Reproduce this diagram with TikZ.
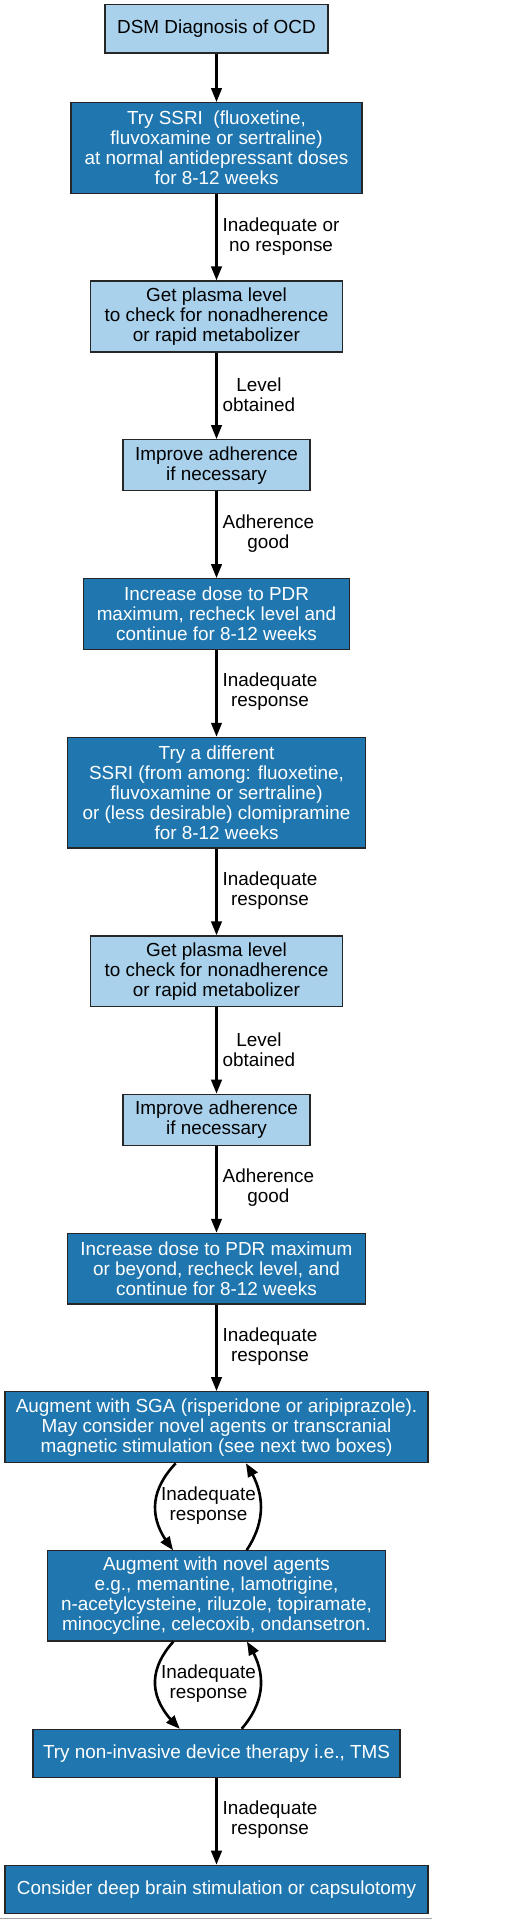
\documentclass[tikz,border=0pt]{standalone}
\usepackage{fontspec}
\setmainfont{Liberation Sans}
\usetikzlibrary{arrows.meta,bending}
\definecolor{lightb}{HTML}{A9D1EC}
\definecolor{darkb}{HTML}{2077B0}
\begin{document}
\begin{tikzpicture}[x=1bp,y=-1bp,
  box/.style={draw=black!85, line width=1.2bp, inner sep=0pt, align=center,
    font=\fontsize{18.9bp}{20bp}\selectfont},
  lbox/.style={box, fill=lightb, text=black},
  dbox/.style={box, fill=darkb, text=white},
  elabel/.style={inner sep=0pt, align=center, anchor=west,
    font=\fontsize{18.9bp}{20bp}\selectfont},
  clabel/.style={inner sep=0pt, align=center,
    font=\fontsize{18.9bp}{20bp}\selectfont},
  flow/.style={line width=2.6bp, -{Triangle[width=10.5bp,length=14bp,bend]}}
]
\useasboundingbox (0,0) rectangle (518,1919);

\node[lbox, minimum width=223bp, minimum height=48.3bp] (n1) at (216.5,28.9) {DSM Diagnosis of OCD};
\node[dbox, minimum width=291bp, minimum height=90.6bp] (n2) at (216.5,148) {Try SSRI \ (fluoxetine,\\fluvoxamine or sertraline)\\at normal antidepressant doses\\for 8-12 weeks};
\node[lbox, minimum width=252.4bp, minimum height=71bp] (n3) at (216.5,316.5) {Get plasma level\\to check for nonadherence\\or rapid metabolizer};
\node[lbox, minimum width=187bp, minimum height=51bp] (n4) at (216.5,465.2) {Improve adherence\\if necessary};
\node[dbox, minimum width=265.6bp, minimum height=70.6bp] (n5) at (216.5,614) {Increase dose to PDR\\maximum, recheck level and\\continue for 8-12 weeks};
\node[dbox, minimum width=298bp, minimum height=110.7bp] (n6) at (216.5,792.7) {Try a different\\SSRI (from among: fluoxetine,\\fluvoxamine or sertraline)\\or (less desirable) clomipramine\\for 8-12 weeks};
\node[lbox, minimum width=252.4bp, minimum height=70.7bp] (n7) at (216.5,971.3) {Get plasma level\\to check for nonadherence\\or rapid metabolizer};
\node[lbox, minimum width=187bp, minimum height=51bp] (n8) at (216.5,1119.8) {Improve adherence\\if necessary};
\node[dbox, minimum width=298bp, minimum height=70.7bp] (n9) at (216.5,1268.7) {Increase dose to PDR maximum\\or beyond, recheck level, and\\continue for 8-12 weeks};
\node[dbox, minimum width=423bp, minimum height=71bp] (n10) at (216.5,1427.2) {Augment with SGA (risperidone or aripiprazole).\\May consider novel agents or transcranial\\magnetic stimulation (see next two boxes)};
\node[dbox, minimum width=337.7bp, minimum height=90.3bp] (n11) at (216.5,1595.9) {Augment with novel agents\\e.g., memantine, lamotrigine,\\n-acetylcysteine, riluzole, topiramate,\\minocycline, celecoxib, ondansetron.};
\node[dbox, minimum width=367bp, minimum height=48bp] (n12) at (216.5,1753.3) {Try non-invasive device therapy i.e., TMS};
\node[dbox, minimum width=423bp, minimum height=48bp] (n13) at (216.5,1889.3) {Consider deep brain stimulation or capsulotomy};

\draw[flow] (n1) -- (n2);
\draw[flow] (n2) -- (n3);
\draw[flow] (n3) -- (n4);
\draw[flow] (n4) -- (n5);
\draw[flow] (n5) -- (n6);
\draw[flow] (n6) -- (n7);
\draw[flow] (n7) -- (n8);
\draw[flow] (n8) -- (n9);
\draw[flow] (n9) -- (n10);
\draw[flow] (n12) -- (n13);

\draw[flow] ([xshift=-40.8bp]n10.south) .. controls (148.5,1492) and (148.5,1521) .. ([xshift=-43.2bp]n11.north);
\draw[flow] ([xshift=30.2bp]n11.north) .. controls (265.9,1521) and (265.9,1492) .. ([xshift=29.2bp]n10.south);
\draw[flow] ([xshift=-43.2bp]n11.south) .. controls (147.8,1670) and (147.8,1700) .. ([xshift=-36.5bp]n12.north);
\draw[flow] ([xshift=25.2bp]n12.north) .. controls (266.6,1700) and (266.6,1670) .. ([xshift=30.2bp]n11.south);

\node[elabel] (l1) at (222.5,236.5) {Inadequate or\\no response};
\node[elabel] (l2) at (222.5,394.3) {Level\\obtained};
\node[elabel] (l3) at (222.5,533.7) {Adherence\\good};
\node[elabel] (l4) at (222.5,692) {Inadequate\\response};
\node[elabel] (l5) at (222.5,891) {Inadequate\\response};
\node[elabel] (l6) at (222.5,1049.7) {Level\\obtained};
\node[elabel] (l7) at (222.5,1187.7) {Adherence\\good};
\node[elabel] (l8) at (222.5,1346.7) {Inadequate\\response};
\node[clabel] (l9) at (208.5,1505.9) {Inadequate\\response};
\node[clabel] (l10) at (208.5,1683.8) {Inadequate\\response};
\node[elabel] (l11) at (222.5,1820) {Inadequate\\response};

\draw[gray!70, line width=1bp] (0,1918.5) -- (432,1918.5);
\end{tikzpicture}
\end{document}
